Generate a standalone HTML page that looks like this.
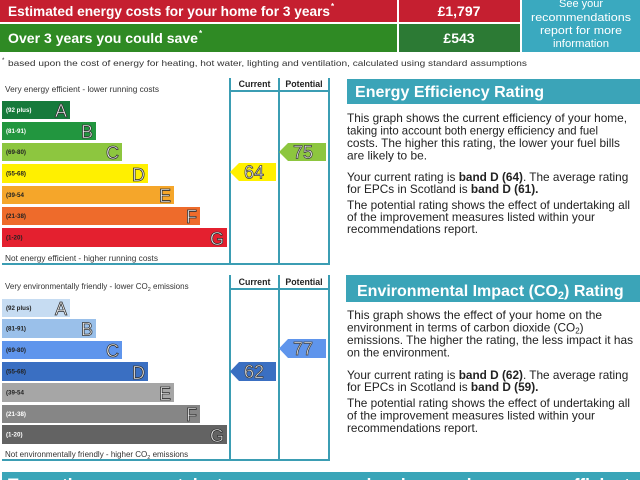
<!DOCTYPE html>
<html><head><meta charset="utf-8"><style>
html,body{margin:0;padding:0;background:#fff;}
svg{display:block;}
</style></head><body>
<svg width="640" height="480" viewBox="0 0 640 480" xmlns="http://www.w3.org/2000/svg" font-family="'Liberation Sans', Arial, sans-serif">
<rect x="0" y="0" width="640" height="480" fill="#fff"/>

<!-- Top cost strip -->
<rect x="0" y="0" width="397" height="22" fill="#c51f30"/>
<rect x="399" y="0" width="121" height="22" fill="#c51f30"/>
<rect x="0" y="24" width="397" height="28" fill="#2f8a24"/>
<rect x="399" y="24" width="121" height="28" fill="#2c7a34"/>
<rect x="522" y="0" width="118" height="52" fill="#3aa9bf"/>
<text x="8" y="16" font-size="14" font-weight="bold" fill="#fff" textLength="322" lengthAdjust="spacingAndGlyphs">Estimated energy costs for your home for 3 years</text>
<text x="331" y="9" font-size="8" font-weight="bold" fill="#fff">*</text>
<text x="8" y="43" font-size="14" font-weight="bold" fill="#fff" textLength="190" lengthAdjust="spacingAndGlyphs">Over 3 years you could save</text>
<text x="199" y="36" font-size="8" font-weight="bold" fill="#fff">*</text>
<text x="459" y="16" font-size="14" font-weight="bold" fill="#fff" text-anchor="middle">£1,797</text>
<text x="459" y="43" font-size="14" font-weight="bold" fill="#fff" text-anchor="middle">£543</text>
<g font-size="11" fill="#fff" text-anchor="middle">
<text x="581" y="7">See your</text>
<text x="581" y="21" textLength="100" lengthAdjust="spacingAndGlyphs">recommendations</text>
<text x="581" y="34" textLength="82" lengthAdjust="spacingAndGlyphs">report for more</text>
<text x="581" y="47" textLength="56" lengthAdjust="spacingAndGlyphs">information</text>
</g>
<text x="2" y="62" font-size="6" fill="#222">*</text>
<text x="8" y="66" font-size="8.3" fill="#333" textLength="519" lengthAdjust="spacingAndGlyphs">based upon the cost of energy for heating, hot water, lighting and ventilation, calculated using standard assumptions</text>

<!-- Energy Efficiency chart -->
<g stroke="#3b9db3" stroke-width="2" fill="none">
<line x1="230" y1="78" x2="230" y2="265"/>
<line x1="279" y1="78" x2="279" y2="265"/>
<line x1="329" y1="78" x2="329" y2="265"/>
<line x1="230" y1="91" x2="329" y2="91"/>
<line x1="2" y1="264" x2="330" y2="264"/>
</g>
<text x="254.5" y="87" font-size="8.8" font-weight="bold" fill="#222" text-anchor="middle">Current</text>
<text x="304" y="87" font-size="8.8" font-weight="bold" fill="#222" text-anchor="middle">Potential</text>
<text x="5" y="92" font-size="8" fill="#333" textLength="154" lengthAdjust="spacingAndGlyphs">Very energy efficient - lower running costs</text>
<text x="5" y="261" font-size="8" fill="#333" textLength="153" lengthAdjust="spacingAndGlyphs">Not energy efficient - higher running costs</text>

<rect x="2" y="101" width="68" height="18" fill="#167a3b"/>
<rect x="2" y="122" width="94" height="18" fill="#22963f"/>
<rect x="2" y="143" width="120" height="18" fill="#8dc63f"/>
<rect x="2" y="164" width="146" height="19" fill="#fff000"/>
<rect x="2" y="186" width="172" height="18" fill="#f5a62a"/>
<rect x="2" y="207" width="198" height="18" fill="#ee6b2b"/>
<rect x="2" y="228" width="225" height="19" fill="#e4202f"/>
<g font-size="6.2" font-weight="bold">
<text x="6" y="112" fill="#fff">(92 plus)</text>
<text x="6" y="133" fill="#fff">(81-91)</text>
<text x="6" y="154" fill="#222">(69-80)</text>
<text x="6" y="175.5" fill="#222">(55-68)</text>
<text x="6" y="197" fill="#222">(39-54</text>
<text x="6" y="218" fill="#222">(21-38)</text>
<text x="6" y="239.5" fill="#222">(1-20)</text>
</g>
<g font-size="18" fill="#fff" stroke="#333" stroke-width="0.8" text-anchor="end">
<text x="67" y="117">A</text>
<text x="93" y="138">B</text>
<text x="119" y="159">C</text>
<text x="145" y="181">D</text>
<text x="171" y="202">E</text>
<text x="197" y="223">F</text>
<text x="224" y="245">G</text>
</g>
<polygon points="230,172 239,163 276,163 276,181 239,181" fill="#fff000"/>
<polygon points="279,152 288,143 326,143 326,161 288,161" fill="#8dc63f"/>
<g font-size="18" fill="#fff" stroke="#444" stroke-width="0.8" text-anchor="middle">
<text x="254" y="178.5">64</text>
<text x="303" y="158.5">75</text>
</g>

<!-- Environmental chart -->
<g stroke="#3b9db3" stroke-width="2" fill="none">
<line x1="230" y1="275" x2="230" y2="461"/>
<line x1="279" y1="275" x2="279" y2="461"/>
<line x1="329" y1="275" x2="329" y2="461"/>
<line x1="230" y1="289" x2="329" y2="289"/>
<line x1="2" y1="460" x2="330" y2="460"/>
</g>
<text x="254.5" y="285" font-size="8.8" font-weight="bold" fill="#222" text-anchor="middle">Current</text>
<text x="304" y="285" font-size="8.8" font-weight="bold" fill="#222" text-anchor="middle">Potential</text>
<text x="5" y="289" font-size="8" fill="#333">Very environmentally friendly - lower CO<tspan font-size="5.5" dy="2">2</tspan><tspan dy="-2"> emissions</tspan></text>
<text x="5" y="457" font-size="8" fill="#333">Not environmentally friendly - higher CO<tspan font-size="5.5" dy="2">2</tspan><tspan dy="-2"> emissions</tspan></text>

<rect x="2" y="299" width="68" height="18" fill="#c6dcf2"/>
<rect x="2" y="319" width="94" height="19" fill="#9ac0ea"/>
<rect x="2" y="341" width="120" height="18" fill="#5f95ec"/>
<rect x="2" y="362" width="146" height="19" fill="#3a6fc2"/>
<rect x="2" y="383" width="172" height="19" fill="#a6a6a6"/>
<rect x="2" y="405" width="198" height="18" fill="#868686"/>
<rect x="2" y="425" width="225" height="19" fill="#636363"/>
<g font-size="6.2" font-weight="bold">
<text x="6" y="310" fill="#222">(92 plus)</text>
<text x="6" y="330.5" fill="#222">(81-91)</text>
<text x="6" y="352" fill="#222">(69-80)</text>
<text x="6" y="373.5" fill="#222">(55-68)</text>
<text x="6" y="394.5" fill="#222">(39-54</text>
<text x="6" y="416" fill="#fff">(21-38)</text>
<text x="6" y="436.5" fill="#fff">(1-20)</text>
</g>
<g font-size="18" fill="#fff" stroke="#333" stroke-width="0.8" text-anchor="end">
<text x="67" y="315">A</text>
<text x="93" y="335.5">B</text>
<text x="119" y="357">C</text>
<text x="145" y="379">D</text>
<text x="171" y="400">E</text>
<text x="197" y="421">F</text>
<text x="224" y="442">G</text>
</g>
<polygon points="230,371.5 239,362 276,362 276,381 239,381" fill="#3a6fc2"/>
<polygon points="279,348.5 288,339 326,339 326,358 288,358" fill="#5f95ec"/>
<g font-size="18" fill="#fff" stroke="#444" stroke-width="0.8" text-anchor="middle">
<text x="254" y="378">62</text>
<text x="303" y="355">77</text>
</g>

<!-- Right panel: Energy Efficiency Rating -->
<rect x="347" y="79" width="293" height="25" fill="#3ba4b8"/>
<text x="355" y="97" font-size="16" font-weight="bold" fill="#fff" textLength="189" lengthAdjust="spacingAndGlyphs">Energy Efficiency Rating</text>
<g font-size="11.8" fill="#222">
<text x="347" y="122" textLength="280" lengthAdjust="spacingAndGlyphs">This graph shows the current efficiency of your home,</text>
<text x="347" y="134.5" textLength="251" lengthAdjust="spacingAndGlyphs">taking into account both energy efficiency and fuel</text>
<text x="347" y="147" textLength="273" lengthAdjust="spacingAndGlyphs">costs. The higher this rating, the lower your fuel bills</text>
<text x="347" y="159.5" textLength="80" lengthAdjust="spacingAndGlyphs">are likely to be.</text>
<text x="347" y="181">Your current rating is <tspan font-weight="bold">band D (64)</tspan>. The average rating</text>
<text x="347" y="193">for EPCs in Scotland is <tspan font-weight="bold">band D (61).</tspan></text>
<text x="347" y="209" textLength="283" lengthAdjust="spacingAndGlyphs">The potential rating shows the effect of undertaking all</text>
<text x="347" y="221" textLength="248" lengthAdjust="spacingAndGlyphs">of the improvement measures listed within your</text>
<text x="347" y="233" textLength="131" lengthAdjust="spacingAndGlyphs">recommendations report.</text>
</g>

<!-- Right panel: Environmental Impact -->
<rect x="346" y="275" width="294" height="27" fill="#3ba4b8"/>
<text x="357" y="296" font-size="16" font-weight="bold" fill="#fff">Environmental Impact (CO<tspan font-size="11" dy="3">2</tspan><tspan dy="-3">) Rating</tspan></text>
<g font-size="11.8" fill="#222">
<text x="347" y="319" textLength="255" lengthAdjust="spacingAndGlyphs">This graph shows the effect of your home on the</text>
<text x="347" y="331.5">environment in terms of carbon dioxide (CO<tspan font-size="8" dy="2">2</tspan><tspan dy="-2">)</tspan></text>
<text x="347" y="344" textLength="286" lengthAdjust="spacingAndGlyphs">emissions. The higher the rating, the less impact it has</text>
<text x="347" y="356.5" textLength="103" lengthAdjust="spacingAndGlyphs">on the environment.</text>
<text x="347" y="379">Your current rating is <tspan font-weight="bold">band D (62)</tspan>. The average rating</text>
<text x="347" y="391">for EPCs in Scotland is <tspan font-weight="bold">band D (59).</tspan></text>
<text x="347" y="407" textLength="283" lengthAdjust="spacingAndGlyphs">The potential rating shows the effect of undertaking all</text>
<text x="347" y="419.5" textLength="248" lengthAdjust="spacingAndGlyphs">of the improvement measures listed within your</text>
<text x="347" y="432" textLength="131" lengthAdjust="spacingAndGlyphs">recommendations report.</text>
</g>

<!-- Bottom banner -->
<rect x="2" y="472" width="638" height="8" fill="#3aa5b8"/>
<text x="8" y="492" font-size="19" font-weight="bold" fill="#fff" textLength="622" lengthAdjust="spacingAndGlyphs">Top actions you can take to save money and make your home more efficient</text>
</svg>
</body></html>
